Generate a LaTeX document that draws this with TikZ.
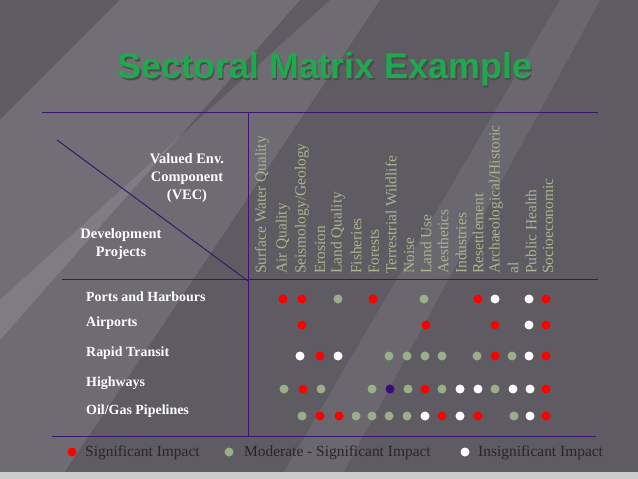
\documentclass[tikz,border=0pt]{standalone}
\usepackage{fontspec}
\setmainfont{Liberation Serif}
\newfontfamily\titlefont{Liberation Sans}
\begin{document}
\begin{tikzpicture}[x=1bp,y=-1bp,
  ln/.style={draw=lncol,line width=1bp},
  dot/.style={circle,inner sep=0pt,minimum size=9bp},
  R/.style={dot,fill=red},
  G/.style={dot,fill=dotg},
  W/.style={dot,fill=white},
  P/.style={dot,fill=dotp},
  col/.style={rotate=90,anchor=west,text=colt,font=\fontsize{15.5}{16}\selectfont,inner sep=0pt},
  rowl/.style={anchor=west,text=white,font=\fontsize{14}{15}\selectfont\bfseries,inner sep=0pt},
  hdr/.style={text=white,font=\fontsize{14.5}{18}\selectfont\bfseries,align=center},
  leg/.style={anchor=west,text=black!85,font=\fontsize{15.5}{16}\selectfont,inner sep=0pt}]
\definecolor{bg}{HTML}{5E5B62}
\definecolor{lncol}{HTML}{3A1670}
\definecolor{dotg}{HTML}{9AAE88}
\definecolor{dotp}{HTML}{3A0A80}
\definecolor{colt}{HTML}{A9B58C}
\definecolor{tgreen}{HTML}{1FA84E}
\useasboundingbox (0,0) rectangle (638,479);
\fill[bg] (0,0) rectangle (638,479);
\fill[white,opacity=0.12] (0,120) -- (120,0) -- (300,0) -- (0,340) -- cycle;
\fill[white,opacity=0.10] (0,300) -- (330,0) -- (380,0) -- (60,479) -- (0,479) -- cycle;
\fill[white,opacity=0.08] (280,479) -- (560,0) -- (600,0) -- (340,479) -- cycle;
\fill[black!20] (0,472) rectangle (638,479);
% title
\node[text=tgreen,font=\titlefont\fontsize{36}{38}\selectfont\bfseries,
  preaction={}] (title) at (325,70)
  {\rlap{\hspace{1.5bp}\raisebox{-2.5bp}{\color{black!70}Sectoral Matrix Example}}Sectoral Matrix Example};
% lines
\coordinate (t1) at (42,113); \coordinate (t2) at (598,113);
\coordinate (m1) at (62,279); \coordinate (m2) at (598,279);
\coordinate (b1) at (52,436); \coordinate (b2) at (596,436);
\coordinate (v1) at (248,113); \coordinate (v2) at (248,436);
\coordinate (d1) at (57,140); \coordinate (d2) at (248,281);
\draw[ln] (t1)--(t2); \draw[ln] (m1)--(m2); \draw[ln] (b1)--(b2);
\draw[ln] (v1)--(v2); \draw[ln] (d1)--(d2);
% headers
\node[hdr] (vec) at (187,178) {Valued Env.\\Component\\(VEC)};
\node[hdr] (dev) at (121,244) {Development\\Projects};
% columns
\foreach \x/\t in {262/{Surface Water Quality},283/{Air Quality},302/{Seismology/Geology},320/{Erosion},338/{Land Quality},356/{Fisheries},374/{Forests},391/{Terrestrial Wildlife},409/{Noise},426/{Land Use},443/{Aesthetics},461/{Industries},478/{Resettlement},496/{Archaeological/Historic},513/{al},531/{Public Health},548/{Socioeconomic}}
  \node[col] at (\x,274) {\t};
% rows
\node[rowl] (r1) at (86,297) {Ports and Harbours};
\node[rowl] (r2) at (86,323) {Airports};
\node[rowl] (r3) at (86,353) {Rapid Transit};
\node[rowl] (r4) at (86,383) {Highways};
\node[rowl] (r5) at (86,411) {Oil/Gas Pipelines};
% dots
\foreach \x/\s in {283/R,302/R,338/G,373/R,424/G,478/R,495/W,529/W,546/R}
  \node[\s] at (\x,299) {};
\foreach \x/\s in {302/R,426/R,495/R,529/W,546/R}
  \node[\s] at (\x,325) {};
\foreach \x/\s in {300/W,320/R,338/W,389/G,407/G,425/G,442/G,477/G,495/R,512/G,529/W,546/R}
  \node[\s] at (\x,356) {};
\foreach \x/\s in {284/G,303/R,321/G,372/G,390/P,408/G,425/R,442/G,460/W,478/W,495/G,513/W,530/W,546/R}
  \node[\s] at (\x,389) {};
\foreach \x/\s in {302/G,320/R,339/R,356/G,372/G,389/G,407/G,425/W,442/R,460/W,478/R,514/G,530/W,546/R}
  \node[\s] at (\x,416) {};
% legend
\node[R] (l1) at (72,452) {};
\node[leg] (lt1) at (85,453) {Significant Impact};
\node[G] (l2) at (229,452) {};
\node[leg] (lt2) at (244,453) {Moderate - Significant Impact};
\node[W] (l3) at (465,452) {};
\node[leg] (lt3) at (478,453) {Insignificant Impact};
\end{tikzpicture}
\end{document}
